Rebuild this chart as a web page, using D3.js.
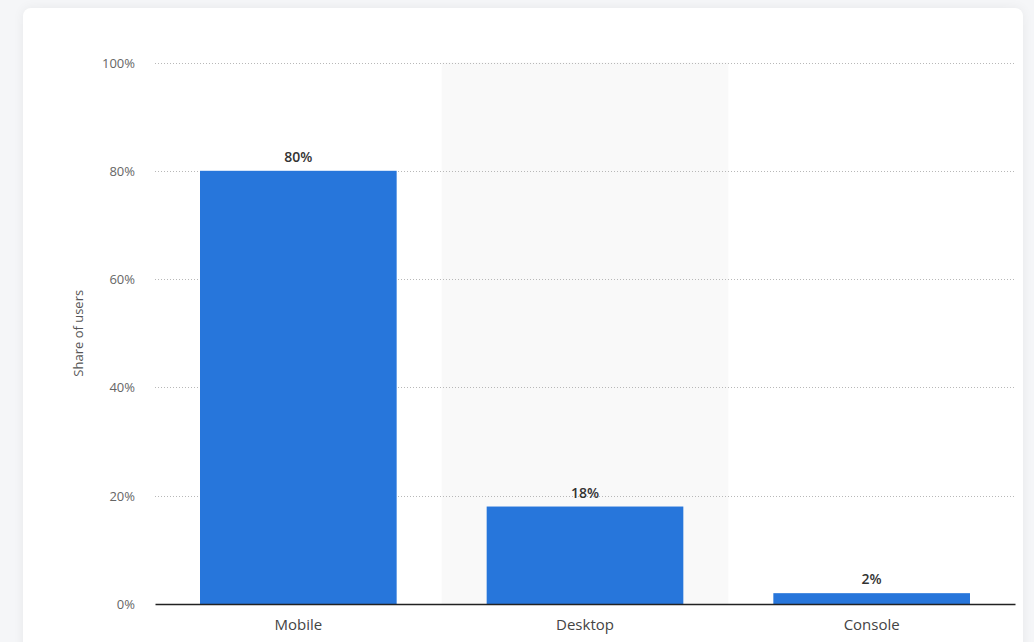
<!DOCTYPE html>
<html>
<head>
<meta charset="utf-8">
<script src="https://cdn.jsdelivr.net/npm/d3@7"></script>
<style>
	html, body { margin: 0; padding: 0; background: #f5f6f8; overflow: hidden; }
	#card {
		position: absolute; left: 23px; top: 8px; width: 1000px; height: 660px;
		background: #fff; border-radius: 8px;
		box-shadow: 0 0 12px rgba(0, 0, 0, 0.06);
	}
	svg { position: absolute; left: 0; top: 0; }
	text { font-family: "Open Sans", "Noto Sans", sans-serif; }
</style>
</head>
<body>
<div id="card"></div>
<svg id="chart" width="1034" height="642"></svg>
<script>
var categories = ["Mobile", "Desktop", "Console"];
var values = [80, 18, 2];
var yTicks = [0, 20, 40, 60, 80, 100];

var svg = d3.select("#chart");
var plotLeft = 155, plotRight = 1015, plotTop = 62.5, plotBottom = 604;

var x = d3.scaleBand()
	.domain(categories)
	.range([plotLeft, plotRight])
	.padding(0);
var y = d3.scaleLinear()
	.domain([0, 100])
	.range([plotBottom, plotTop]);

var barPad = x.bandwidth() * 0.157;
var barW = x.bandwidth() - 2 * barPad;

// shaded band behind every second category
svg.append("g").selectAll("rect")
	.data(categories.filter(function(d, i) { return i % 2 === 1; }))
	.join("rect")
	.attr("x", function(d) { return x(d); })
	.attr("y", y(100))
	.attr("width", x.bandwidth())
	.attr("height", y(0) - y(100))
	.attr("fill", "#f9f9f9");

// grid lines
svg.append("g").selectAll("line")
	.data(yTicks.filter(function(d) { return d > 0; }))
	.join("line")
	.attr("x1", plotLeft)
	.attr("x2", plotRight)
	.attr("y1", function(d) { return Math.round(y(d)) + 0.5; })
	.attr("y2", function(d) { return Math.round(y(d)) + 0.5; })
	.attr("stroke", "#b8b8b8")
	.attr("stroke-width", 1)
	.attr("stroke-dasharray", "1,2");

// y tick labels
svg.append("g").selectAll("text")
	.data(yTicks)
	.join("text")
	.attr("x", plotLeft - 20)
	.attr("y", function(d) { return y(d); })
	.attr("text-anchor", "end")
	.attr("dominant-baseline", "central")
	.attr("font-size", 13)
	.attr("fill", "#666")
	.text(function(d) { return d + "%"; });

// axis title
svg.append("text")
	.attr("transform", "translate(83," + ((plotTop + plotBottom) / 2) + ") rotate(-90)")
	.attr("text-anchor", "middle")
	.attr("font-size", 13)
	.attr("fill", "#555")
	.text("Share of users");

// bars
svg.append("g").selectAll("rect")
	.data(categories)
	.join("rect")
	.attr("x", function(d) { return x(d) + barPad; })
	.attr("y", function(d, i) { return y(values[i]); })
	.attr("width", barW)
	.attr("height", function(d, i) { return y(0) - y(values[i]); })
	.attr("fill", "#2776db");

// value labels
svg.append("g").selectAll("text")
	.data(categories)
	.join("text")
	.attr("x", function(d) { return x(d) + x.bandwidth() / 2; })
	.attr("y", function(d, i) { return y(values[i]) - 9; })
	.attr("text-anchor", "middle")
	.attr("font-size", 14)
	.attr("font-weight", 600)
	.attr("fill", "#333")
	.text(function(d, i) { return values[i] + "%"; });

// x axis
var xAxis = svg.append("g")
	.attr("transform", "translate(0," + plotBottom + ")")
	.call(d3.axisBottom(x).tickSize(0).tickPadding(15));
xAxis.select(".domain").attr("stroke", "#222").attr("stroke-width", 1.5);
xAxis.selectAll("text")
	.attr("font-family", "\"Open Sans\", \"Noto Sans\", sans-serif")
	.attr("font-size", 15)
	.attr("fill", "#444");
</script>
</body>
</html>
